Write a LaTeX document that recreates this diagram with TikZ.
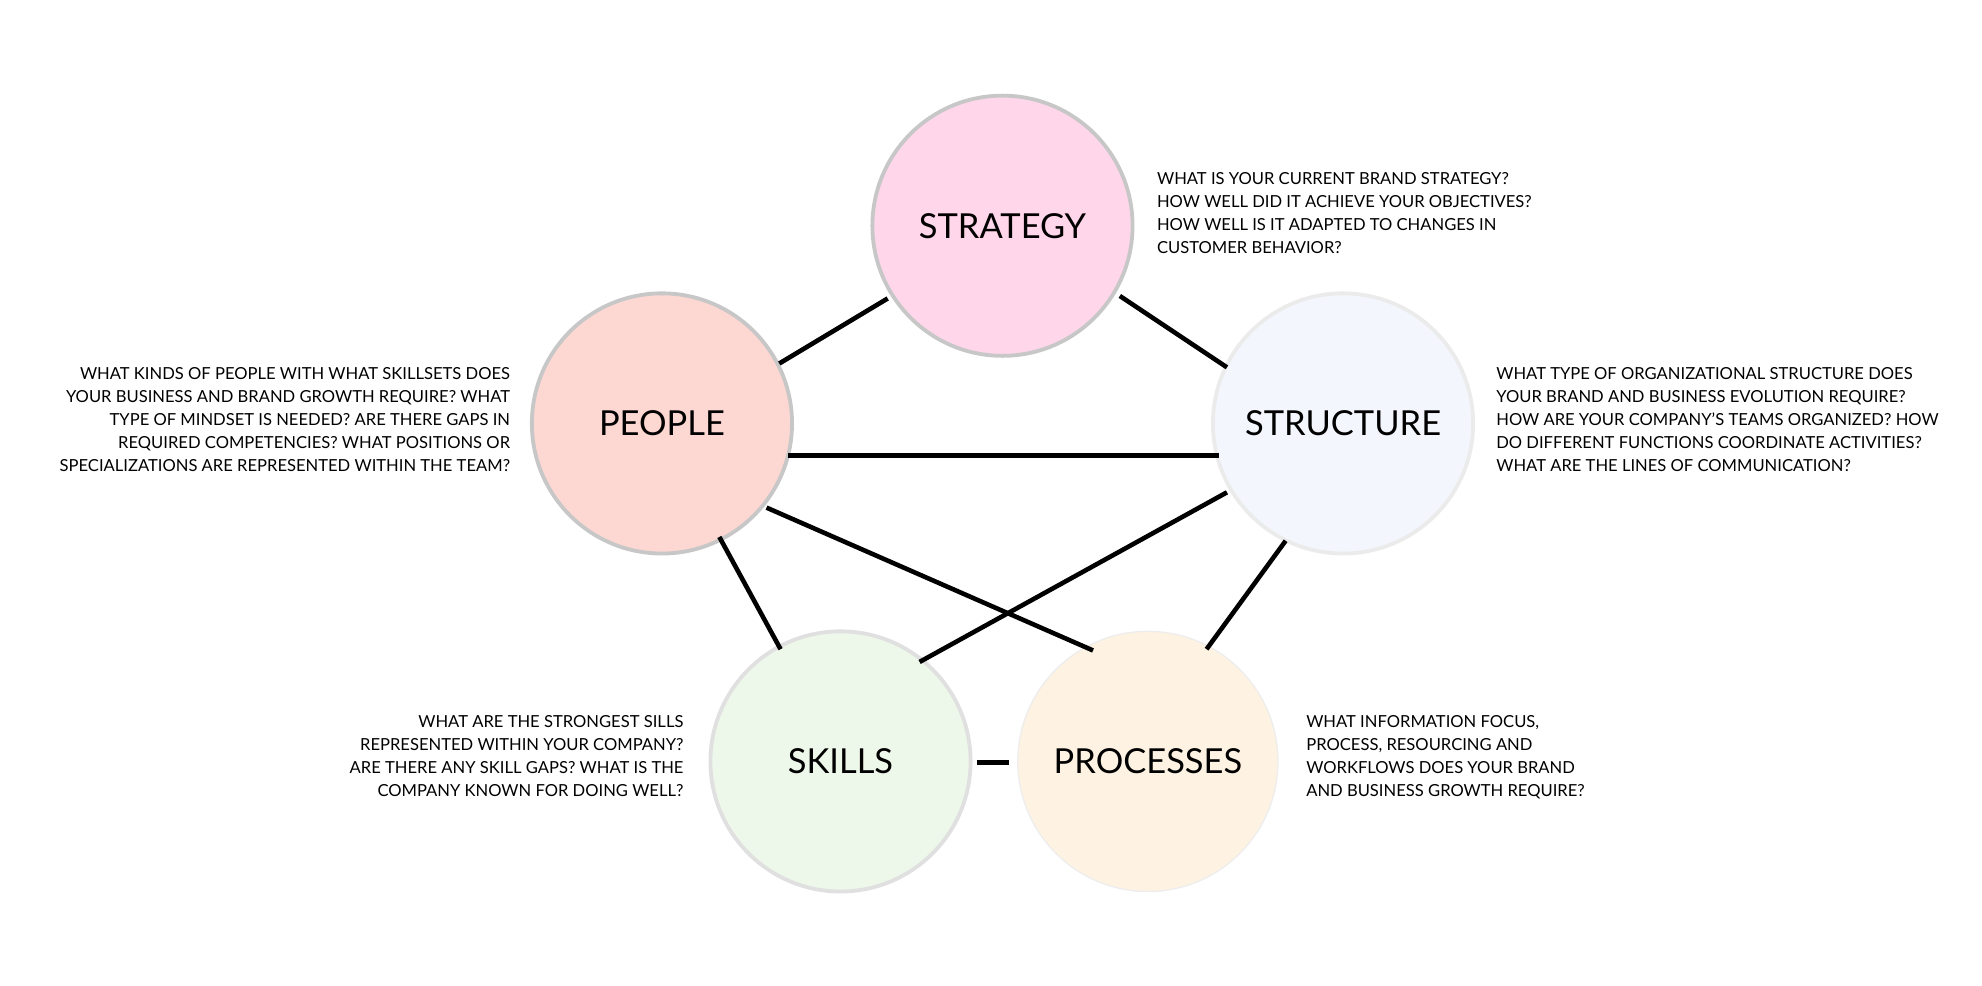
\documentclass[tikz,border=0pt]{standalone}
\usepackage{fontspec}
\setmainfont{Lato}
\begin{document}
\begin{tikzpicture}[x=1pt,y=-1pt,
 circ/.style={circle,minimum size=204pt,inner sep=0pt,line width=3pt,font=\fontsize{27}{30}\selectfont},
 conn/.style={line width=3.6pt,black},
 info/.style={font=\fontsize{13}{18}\selectfont,inner sep=0pt}]
\useasboundingbox (0,0) rectangle (1554,773);
\node[circ,draw=black!22,fill={rgb,255:red,255;green,214;blue,234}] (strat) at (786,177) {STRATEGY};
\node[circ,draw=black!22,fill={rgb,255:red,253;green,215;blue,210}] (people) at (519,332) {PEOPLE};
\node[circ,draw=black!8,fill={rgb,255:red,243;green,247;blue,253}] (struct) at (1053,332) {STRUCTURE};
\node[circ,draw=black!12,fill={rgb,255:red,238;green,248;blue,234}] (skills) at (659,597) {SKILLS};
\node[circ,draw=black!7,line width=1pt,fill={rgb,255:red,254;green,243;blue,226}] (proc) at (900,597) {PROCESSES};
\coordinate (a1) at (611,285); \coordinate (a2) at (696,234);
\coordinate (b1) at (878,232); \coordinate (b2) at (962,288);
\coordinate (c1) at (618,357); \coordinate (c2) at (956,357);
\coordinate (d1) at (564,421); \coordinate (d2) at (612,509);
\coordinate (e1) at (601,398); \coordinate (e2) at (857,510);
\coordinate (f1) at (962,386); \coordinate (f2) at (721,519);
\coordinate (g1) at (1008,424); \coordinate (g2) at (946,509);
\coordinate (h1) at (766,598); \coordinate (h2) at (791,598);
\foreach \p/\q in {a1/a2,b1/b2,c1/c2,d1/d2,e1/e2,f1/f2,g1/g2,h1/h2} \draw[conn] (\p)--(\q);
\node[info,anchor=north west,align=left] (tstrat) at (907,135) {WHAT IS YOUR CURRENT BRAND STRATEGY?\\HOW WELL DID IT ACHIEVE YOUR OBJECTIVES?\\HOW WELL IS IT ADAPTED TO CHANGES IN\\CUSTOMER BEHAVIOR?};
\node[info,anchor=north east,align=right] (tpeople) at (400,288) {WHAT KINDS OF PEOPLE WITH WHAT SKILLSETS DOES\\YOUR BUSINESS AND BRAND GROWTH REQUIRE? WHAT\\TYPE OF MINDSET IS NEEDED? ARE THERE GAPS IN\\REQUIRED COMPETENCIES? WHAT POSITIONS OR\\SPECIALIZATIONS ARE REPRESENTED WITHIN THE TEAM?};
\node[info,anchor=north west,align=left] (tstruct) at (1173,288) {WHAT TYPE OF ORGANIZATIONAL STRUCTURE DOES\\YOUR BRAND AND BUSINESS EVOLUTION REQUIRE?\\HOW ARE YOUR COMPANY'S TEAMS ORGANIZED? HOW\\DO DIFFERENT FUNCTIONS COORDINATE ACTIVITIES?\\WHAT ARE THE LINES OF COMMUNICATION?};
\node[info,anchor=north east,align=right] (tskills) at (536,561) {WHAT ARE THE STRONGEST SILLS\\REPRESENTED WITHIN YOUR COMPANY?\\ARE THERE ANY SKILL GAPS? WHAT IS THE\\COMPANY KNOWN FOR DOING WELL?};
\node[info,anchor=north west,align=left] (tproc) at (1024,561) {WHAT INFORMATION FOCUS,\\PROCESS, RESOURCING AND\\WORKFLOWS DOES YOUR BRAND\\AND BUSINESS GROWTH REQUIRE?};
\end{tikzpicture}
\end{document}
